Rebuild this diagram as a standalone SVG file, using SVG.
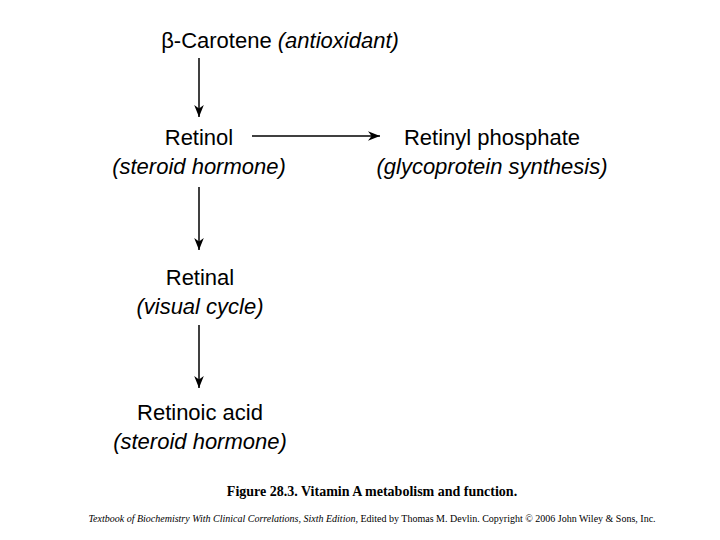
<svg xmlns="http://www.w3.org/2000/svg" width="720" height="540" viewBox="0 0 720 540">
<style>
.t{font-family:"Liberation Sans",Arial,sans-serif;font-size:22px;fill:#000;text-anchor:middle}
.i{font-style:italic}
.c{stroke:#000;stroke-width:1.5;fill:none}
</style>
<defs><marker id="a" viewBox="0 0 10 10" refX="10" refY="5" markerWidth="8" markerHeight="8" markerUnits="userSpaceOnUse" orient="auto"><path d="M0,0 L10,5 L0,10 L3,5 Z" fill="#000"/></marker>
<marker id="b" viewBox="0 0 10 10" refX="10" refY="5" markerWidth="12" markerHeight="12" markerUnits="userSpaceOnUse" orient="auto"><path d="M0,1 L10,5 L0,9 L3,5 Z" fill="#000"/></marker></defs>
<rect width="720" height="540" fill="#fff"/>
<g id="carotene"><text class="t" x="280" y="48">β-Carotene <tspan class="i">(antioxidant)</tspan></text></g>
<g id="retinol"><text class="t" x="199" y="145">Retinol</text><text class="t i" x="199" y="174">(steroid hormone)</text></g>
<g id="phosphate"><text class="t" x="492" y="145">Retinyl phosphate</text><text class="t i" x="492" y="174">(glycoprotein synthesis)</text></g>
<g id="retinal"><text class="t" x="200" y="285">Retinal</text><text class="t i" x="200" y="314">(visual cycle)</text></g>
<g id="acid"><text class="t" x="200" y="420">Retinoic acid</text><text class="t i" x="200" y="449">(steroid hormone)</text></g>
<g id="connectors">
<line class="c" x1="199" y1="58" x2="199" y2="117" marker-end="url(#b)"/>
<line class="c" x1="252" y1="136" x2="380" y2="136" marker-end="url(#b)"/>
<line class="c" x1="199" y1="187" x2="199" y2="250" marker-end="url(#b)"/>
<line class="c" x1="199" y1="325" x2="199" y2="388" marker-end="url(#b)"/>
</g>
<text x="372" y="496" style="font-family:'Liberation Serif',serif;font-weight:bold;font-size:14px;text-anchor:middle">Figure 28.3.  Vitamin A metabolism and function.</text>
<text x="372" y="522" style="font-family:'Liberation Serif',serif;font-size:10px;text-anchor:middle"><tspan font-style="italic">Textbook of Biochemistry With Clinical Correlations, Sixth Edition</tspan>, Edited by Thomas M. Devlin. Copyright © 2006 John Wiley &amp; Sons, Inc.</text>
</svg>
